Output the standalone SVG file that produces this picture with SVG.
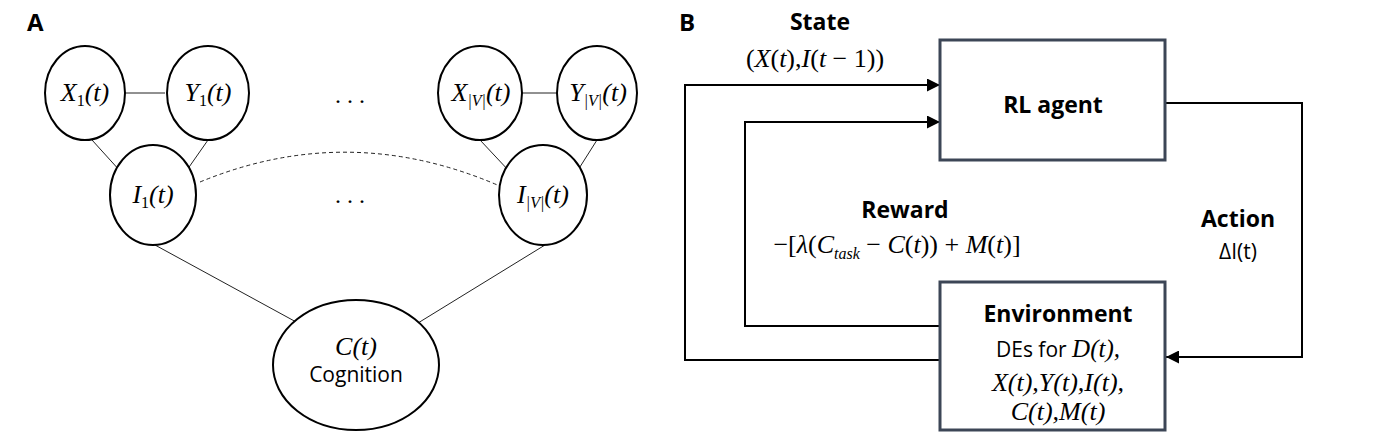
<svg xmlns="http://www.w3.org/2000/svg" width="1376" height="439" viewBox="0 0 1376 439">
<defs>
<marker id="ah" viewBox="0 0 10 10" refX="10" refY="5" markerWidth="13" markerHeight="13" markerUnits="userSpaceOnUse" orient="auto"><path d="M0,0 L10,5 L0,10 z" fill="#000"/></marker>
<style>
.n{fill:#fff;stroke:#000;stroke-width:2}
.b{fill:#fff;stroke:#3c4656;stroke-width:3}
.e{stroke:#222;stroke-width:1;fill:none}
.c{stroke:#000;stroke-width:2;fill:none}
.m{font-family:"Liberation Serif",serif;font-style:italic;font-size:26px;text-anchor:middle}
.up{font-family:"Liberation Serif",serif;font-size:26px;text-anchor:middle}
.i{font-style:italic}
.r{font-family:"Liberation Serif",serif;font-size:24px}
.s{font-family:"Open Sans","Liberation Sans",sans-serif;font-size:21px;text-anchor:middle}
.h{font-family:"Open Sans","Liberation Sans",sans-serif;font-size:23px;font-weight:bold;text-anchor:middle}
.sub{font-size:16px;font-style:normal}
.subi{font-size:16px}
</style>
</defs>
<text x="27" y="31" class="h" style="text-anchor:start;font-size:24px">A</text>
<text x="679" y="31" class="h" style="text-anchor:start;font-size:24px">B</text>
<g id="edgesA">
<line class="e" x1="92" y1="140" x2="121" y2="172"/>
<line class="e" x1="208" y1="140" x2="187" y2="170"/>
<line class="e" x1="480" y1="140" x2="510" y2="172"/>
<line class="e" x1="597" y1="140" x2="578" y2="170"/>
<line class="e" x1="125" y1="93" x2="165" y2="93"/>
<line class="e" x1="522" y1="93" x2="557" y2="93"/>
<line class="e" x1="155" y1="245" x2="298" y2="323"/>
<line class="e" x1="545" y1="245" x2="418" y2="323"/>
<path class="e" d="M200,182 Q350,120 502,187" stroke-dasharray="4,3"/>
</g>
<g id="X1"><ellipse class="n" cx="85" cy="93" rx="40" ry="47"/><text class="m" x="85" y="101">X<tspan class="sub" dy="5">1</tspan><tspan dy="-5">(t)</tspan></text></g>
<g id="Y1"><ellipse class="n" cx="208" cy="93" rx="41" ry="47"/><text class="m" x="208" y="101">Y<tspan class="sub" dy="5">1</tspan><tspan dy="-5">(t)</tspan></text></g>
<g id="XV"><ellipse class="n" cx="480" cy="93" rx="42" ry="47"/><text class="m" x="481" y="101">X<tspan class="subi" dy="5">|V|</tspan><tspan dy="-5">(t)</tspan></text></g>
<g id="YV"><ellipse class="n" cx="597" cy="93" rx="40" ry="47"/><text class="m" x="598" y="101">Y<tspan class="subi" dy="5">|V|</tspan><tspan dy="-5">(t)</tspan></text></g>
<g id="I1"><ellipse class="n" cx="153" cy="195" rx="43" ry="50"/><text class="m" x="153" y="203">I<tspan class="sub" dy="5">1</tspan><tspan dy="-5">(t)</tspan></text></g>
<g id="IV"><ellipse class="n" cx="543" cy="195" rx="44" ry="50"/><text class="m" x="543" y="203">I<tspan class="subi" dy="5">|V|</tspan><tspan dy="-5">(t)</tspan></text></g>
<text class="r" x="350" y="103" text-anchor="middle">. . .</text>
<text class="r" x="350" y="203" text-anchor="middle">. . .</text>
<g id="C"><ellipse class="n" cx="356" cy="365" rx="83" ry="65"/><text class="m" x="356" y="355">C(t)</text><text class="s" x="356" y="382">Cognition</text></g>
<g id="connectors">
<polyline class="c" points="940,360 685,360 685,85 940,85" marker-end="url(#ah)"/>
<polyline class="c" points="940,326 745,326 745,122 940,122" marker-end="url(#ah)"/>
<polyline class="c" points="1165,103 1302,103 1302,357 1166,357" marker-end="url(#ah)"/>
</g>
<g id="agent"><rect class="b" x="940" y="40" width="225" height="120"/><text class="h" x="1053" y="113">RL agent</text></g>
<g id="env"><rect class="b" x="940" y="282" width="225" height="148"/>
<text class="h" x="1058" y="322">Environment</text>
<text class="s" x="1058" y="357">DEs for <tspan font-family="Liberation Serif" font-style="italic" font-size="25">D(t),</tspan></text>
<text class="m" x="1058" y="391" font-size="25">X(t),Y(t),I(t),</text>
<text class="m" x="1058" y="420" font-size="25">C(t),M(t)</text></g>
<text class="h" x="820" y="30">State</text>
<text class="up" x="815" y="67">(<tspan class="i">X</tspan>(<tspan class="i">t</tspan>),<tspan class="i">I</tspan>(<tspan class="i">t</tspan> − 1))</text>
<text class="h" x="905" y="218">Reward</text>
<text class="up" x="897" y="253">−[<tspan class="i">λ</tspan>(<tspan class="i">C</tspan><tspan class="subi i" dy="6">task</tspan><tspan dy="-6"> − </tspan><tspan class="i">C</tspan>(<tspan class="i">t</tspan>)) + <tspan class="i">M</tspan>(<tspan class="i">t</tspan>)]</text>
<text class="h" x="1238" y="227">Action</text>
<text class="s" x="1238" y="259">ΔI(t)</text>
</svg>
